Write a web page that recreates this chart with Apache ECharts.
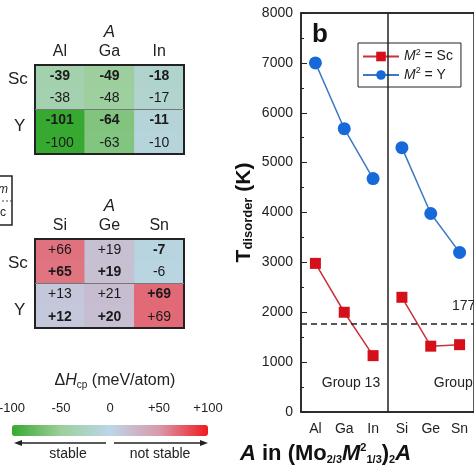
<!DOCTYPE html>
<html><head><meta charset="utf-8">
<script src="https://cdn.jsdelivr.net/npm/echarts@6/dist/echarts.min.js"></script>
<style>html,body{margin:0;padding:0;background:#fff}#c{width:474px;height:474px}</style>
</head><body><div id="c"></div>
<script>
// right panel: T_disorder per A element (group 13 = first three, group 14 = last three)
const elements = ['Al', 'Ga', 'In', 'Si', 'Ge', 'Sn']
const tSc = [2980, 2000, 1130, 2300, 1320, 1350]
const tY = [7000, 5680, 4680, 5300, 3980, 3200]
const meltLine = 1773
const yTicks = [0, 1000, 2000, 3000, 4000, 5000, 6000, 7000, 8000]

// left panel: ΔHcp tables (two sub-rows per M2 row)
const colsTop = ['Al', 'Ga', 'In']
const colsBot = ['Si', 'Ge', 'Sn']
const topVals = [[-39, -49, -18], [-38, -48, -17], [-101, -64, -11], [-100, -63, -10]]
const topBold = [[1, 1, 1], [0, 0, 0], [1, 1, 1], [0, 0, 0]]
const botVals = [[66, 19, -7], [65, 19, -6], [13, 21, 69], [12, 20, 69]]
const botBold = [[0, 0, 1], [1, 1, 0], [0, 0, 1], [1, 1, 0]]
const barTicks = ['-100', '-50', '0', '+50', '+100']

const font = 'Liberation Sans'
const chart = echarts.init(document.getElementById('c'))

const cells = (vals, bold) => {
  const out = []
  vals.forEach((row, r) => row.forEach((v, c) => out.push({
    value: [c, r, v],
    label: { fontWeight: bold[r][c] ? 'bold' : 'normal' },
  })))
  return out
}
// split a series into its group 13 / group 14 halves so the line breaks between them
const part = (arr, g) => arr.map((v, i) => ((i < 3) === (g === 0) ? v : '-'))

const heatGrid = (top) => ({ left: 35, top: top, width: 149, height: 89, show: true, borderColor: '#222', borderWidth: 2, z: 5 })
const heatX = (cols, gi) => ({
  type: 'category', data: cols, gridIndex: gi, position: 'top',
  axisLine: { show: false }, axisTick: { show: false },
  axisLabel: { fontFamily: font, fontSize: 16, color: '#222', margin: 5 },
  splitLine: { show: true, lineStyle: { color: '#777', width: 1 } },
  name: 'A', nameLocation: 'middle', nameGap: 24,
  nameTextStyle: { fontFamily: font, fontSize: 17, fontStyle: 'italic', color: '#222' },
})
const heatY = (gi) => ({
  type: 'category', data: ['0', '1', '2', '3'], inverse: true, gridIndex: gi,
  axisLine: { show: false }, axisTick: { show: false }, axisLabel: { show: false },
  splitLine: { show: true, lineStyle: { color: '#444', type: [2, 2], width: 1 } },
})
const heatSeries = (gi, data) => ({
  type: 'heatmap', xAxisIndex: gi, yAxisIndex: gi, data: data,
  label: { show: true, fontFamily: font, fontSize: 14, color: '#1a1a1a', formatter: p => (p.value[2] > 0 ? '+' : '') + p.value[2] },
})
const lineSeries = (name, data, sym, size, color, lc) => ({
  name: name, type: 'line', xAxisIndex: 2, yAxisIndex: 2, data: data,
  symbol: sym, symbolSize: size, color: color, lineStyle: { color: lc, width: 1.5 },
})

const txt = (x, y, t, extra) => ({ type: 'text', x: x, y: y, style: Object.assign({ text: t, font: '15px ' + font, fill: '#222' }, extra || {}) })

chart.setOption({
  animation: false,
  grid: [
    heatGrid(65),
    heatGrid(239),
    { left: 301, top: 13, height: 399, width: 213, show: true, borderColor: '#222', borderWidth: 1.5 },
  ],
  xAxis: [
    heatX(colsTop, 0),
    heatX(colsBot, 1),
    {
      type: 'category', data: elements, gridIndex: 2,
      axisLine: { lineStyle: { color: '#222', width: 1.5 } },
      axisTick: { inside: true, alignWithLabel: true, length: 5, lineStyle: { color: '#222' } },
      axisLabel: { fontFamily: font, fontSize: 14, color: '#222', margin: 10 },
    },
    {
      type: 'category', data: elements, gridIndex: 2, position: 'top',
      axisLine: { lineStyle: { color: '#222', width: 1.5 } },
      axisTick: { inside: true, alignWithLabel: true, length: 5, lineStyle: { color: '#222' } },
      axisLabel: { show: false },
    },
    { type: 'value', gridIndex: 2, min: 0, max: 6, show: false },
  ],
  yAxis: [
    heatY(0),
    heatY(1),
    {
      type: 'value', gridIndex: 2, min: yTicks[0], max: yTicks[yTicks.length - 1], interval: 1000,
      axisLine: { show: true, lineStyle: { color: '#222', width: 1.5 } },
      axisTick: { inside: true, length: 6, lineStyle: { color: '#222' } },
      minorTick: { show: true, splitNumber: 2, length: 3, lineStyle: { color: '#222' } },
      splitLine: { show: false },
      axisLabel: { fontFamily: font, fontSize: 14, color: '#222', margin: 8, formatter: v => String(v) },
      name: '{t|T}{s|disorder}{t| (K)}', nameLocation: 'middle', nameRotate: 90, nameGap: 46,
      nameTextStyle: { rich: {
        t: { fontFamily: font, fontSize: 21, fontWeight: 'bold', color: '#111' },
        s: { fontFamily: font, fontSize: 13, fontWeight: 'bold', color: '#111', verticalAlign: 'bottom', padding: [8, 0, 0, 0] },
      } },
    },
  ],
  visualMap: {
    type: 'continuous', seriesIndex: [0, 1], min: -100, max: 100, orient: 'horizontal',
    left: 12, top: 425, padding: 0, itemWidth: 11, itemHeight: 196, calculable: false, text: null, showLabel: false,
    hoverLink: false,
    inRange: { color: ['#38a930', '#9ccf9c', '#bcd6ea', '#d99aab', '#f01a1f'] },
  },
  legend: {
    left: 358, top: 43, orient: 'vertical', itemGap: 3, itemWidth: 36, itemHeight: 12,
    borderColor: '#222', borderWidth: 1, padding: [5, 8, 5, 4],
    data: ['Sc', 'Y'],
    formatter: n => '{i|M}{p|2}{n| = ' + n + '}',
    textStyle: { rich: {
      i: { fontFamily: font, fontSize: 14, fontStyle: 'italic', color: '#222' },
      p: { fontFamily: font, fontSize: 9, color: '#222', verticalAlign: 'top', padding: [0, 0, 8, 0] },
      n: { fontFamily: font, fontSize: 14, color: '#222' },
    } },
  },
  series: [
    heatSeries(0, cells(topVals, topBold)),
    heatSeries(1, cells(botVals, botBold)),
    lineSeries('Sc', part(tSc, 0), 'rect', 11, '#d5101b', '#c8323a'),
    lineSeries('Sc', part(tSc, 1), 'rect', 11, '#d5101b', '#c8323a'),
    lineSeries('Y', part(tY, 0), 'circle', 13, '#1569d9', '#3d78c4'),
    lineSeries('Y', part(tY, 1), 'circle', 13, '#1569d9', '#3d78c4'),
    {
      type: 'line', xAxisIndex: 4, yAxisIndex: 2, data: [], silent: true,
      markLine: {
        symbol: 'none', silent: true, label: { show: false },
        data: [
          { xAxis: 3, lineStyle: { color: '#222', type: 'solid', width: 1.5 } },
          { yAxis: meltLine, lineStyle: { color: '#222', type: [6, 4], width: 1.5 } },
        ],
      },
    },
  ],
  graphic: [
    txt(312, 22, 'b', { font: 'bold 26px ' + font, fill: '#111' }),
    txt(452, 299, '1773 K', { font: '14px ' + font }),
    txt(351, 376, 'Group 13', { font: '14px ' + font, textAlign: 'center' }),
    txt(463, 376, 'Group 14', { font: '14px ' + font, textAlign: 'center' }),
    { type: 'text', x: 240, y: 442, style: { text: '{b|A}{r| in (Mo}{s|2/3}{b|M}{p|2}{s|1/3}{r|)}{s|2}{b|A}', rich: {
      b: { font: 'bold italic 22px ' + font, fill: '#111' },
      r: { font: 'bold 22px ' + font, fill: '#111' },
      s: { font: 'bold 11px ' + font, fill: '#111', verticalAlign: 'bottom', padding: [12, 0, 0, 0] },
      p: { font: 'bold 11px ' + font, fill: '#111', verticalAlign: 'top', padding: [0, 0, 12, 0] },
    } } },
    // row labels
    txt(8, 71, 'Sc', { font: '17px ' + font }),
    txt(14, 118, 'Y', { font: '17px ' + font }),
    txt(8, 255, 'Sc', { font: '17px ' + font }),
    txt(14, 302, 'Y', { font: '17px ' + font }),
    { type: 'line', shape: { x1: 35, y1: 109.5, x2: 184, y2: 109.5 }, style: { stroke: '#777', lineWidth: 1 }, z: 10 },
    { type: 'line', shape: { x1: 35, y1: 283.5, x2: 184, y2: 283.5 }, style: { stroke: '#777', lineWidth: 1 }, z: 10 },
    // cropped key box at left edge
    { type: 'rect', shape: { x: -10, y: 176, width: 22, height: 49 }, style: { fill: '#fff', stroke: '#222', lineWidth: 1.5 } },
    { type: 'line', shape: { x1: -10, y1: 201, x2: 12, y2: 201 }, style: { stroke: '#444', lineDash: [2, 2] } },
    txt(-2, 184, 'm', { font: 'italic 12px ' + font }),
    txt(0, 207, 'c', { font: '12px ' + font }),
    // colour bar annotations
    { type: 'text', x: 115, y: 372, style: { text: '{r|Δ}{i|H}{s|cp}{r| (meV/atom)}', align: 'center', rich: {
      r: { font: '16px ' + font, fill: '#222' },
      i: { font: 'italic 16px ' + font, fill: '#222' },
      s: { font: '10px ' + font, fill: '#222', verticalAlign: 'bottom', padding: [8, 0, 0, 0] },
    } } },
    ...barTicks.map((t, i) => txt(12 + i * 49, 402, t, { font: '13px ' + font, textAlign: 'center' })),
    { type: 'line', shape: { x1: 18, y1: 443, x2: 106, y2: 443 }, style: { stroke: '#222', lineWidth: 1.3 } },
    { type: 'polygon', shape: { points: [[14, 443], [22, 440], [22, 446]] }, style: { fill: '#222' } },
    { type: 'line', shape: { x1: 114, y1: 443, x2: 204, y2: 443 }, style: { stroke: '#222', lineWidth: 1.3 } },
    { type: 'polygon', shape: { points: [[208, 443], [200, 440], [200, 446]] }, style: { fill: '#222' } },
    txt(68, 447, 'stable', { font: '14px ' + font, textAlign: 'center' }),
    txt(160, 447, 'not stable', { font: '14px ' + font, textAlign: 'center' }),
  ],
})
</script>
</body></html>
